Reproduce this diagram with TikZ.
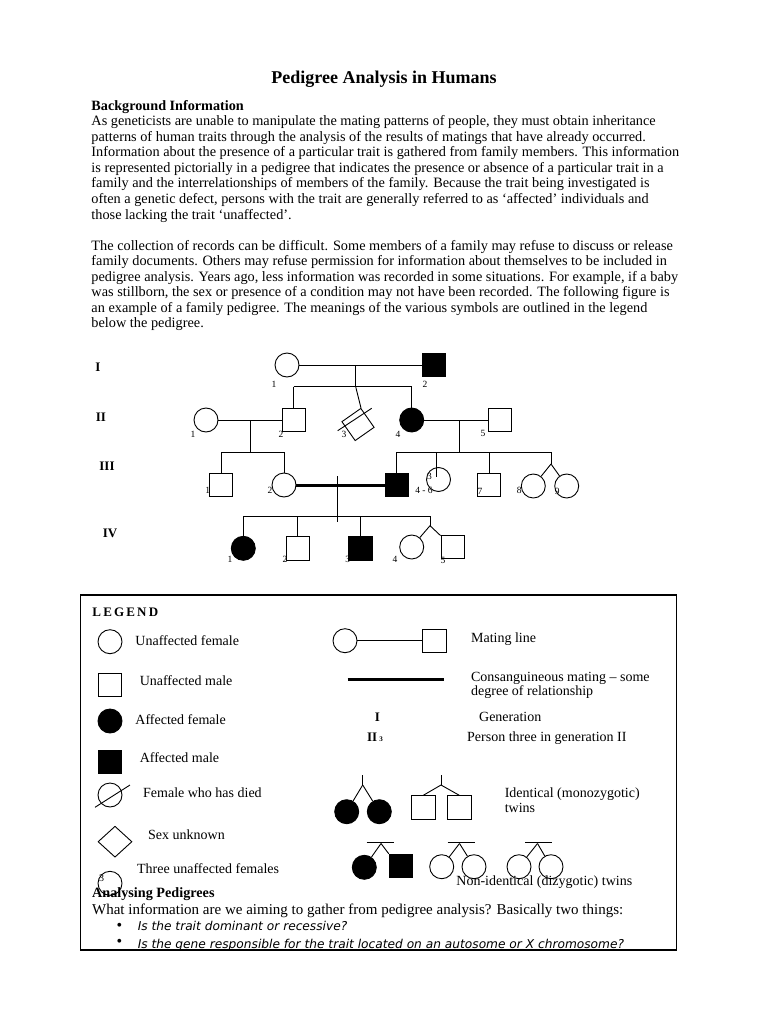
\documentclass[tikz,border=0pt]{standalone}
\usepackage{fontspec}
\setmainfont{Liberation Serif}
\newfontfamily\sansfont{DejaVu Sans}
\usetikzlibrary{shapes.geometric}
\begin{document}
\begin{tikzpicture}[x=1pt,y=-1pt,line width=0.9pt,
  fem/.style={circle,draw,minimum size=24pt,inner sep=0},
  mal/.style={rectangle,draw,minimum size=23.5pt,inner sep=0},
  aff/.style={fill=black},
  lbl/.style={inner sep=0,font=\fontsize{9.5}{9.5}\selectfont},
  gen/.style={inner sep=0,font=\fontsize{13}{13}\selectfont\bfseries},
  txt/.style={anchor=base west,inner sep=0,font=\fontsize{14.3}{15}\selectfont},
  ltxt/.style={anchor=base west,inner sep=0,font=\fontsize{14}{14}\selectfont},
  itx/.style={anchor=base west,inner sep=0,font=\fontsize{12.2}{14}\sansfont\itshape},
  thick line/.style={line width=3pt}]
\useasboundingbox (0,0) rectangle (768,1024);
% ---------- header text ----------
\node[inner sep=0,font=\fontsize{18}{18}\selectfont\bfseries] (title) at (384,79) {Pedigree Analysis in Humans};
\node[txt,font=\fontsize{14.2}{15}\selectfont\bfseries] (bg) at (91,111) {Background Information};
\node[txt] (p1) at (91,126) {As geneticists are unable to manipulate the mating patterns of people, they must obtain inheritance};
\node[txt] (p2) at (91,141.5) {patterns of human traits through the analysis of the results of matings that have already occurred.};
\node[txt] (p3) at (91,157) {Information about the presence of a particular trait is gathered from family members. This information};
\node[txt] (p4) at (91,172.5) {is represented pictorially in a pedigree that indicates the presence or absence of a particular trait in a};
\node[txt] (p5) at (91,188) {family and the interrelationships of members of the family. Because the trait being investigated is};
\node[txt] (p6) at (91,203.5) {often a genetic defect, persons with the trait are generally referred to as `affected' individuals and};
\node[txt] (p7) at (91,219) {those lacking the trait `unaffected'.};
\node[txt] (q1) at (91,250) {The collection of records can be difficult. Some members of a family may refuse to discuss or release};
\node[txt] (q2) at (91,265.5) {family documents. Others may refuse permission for information about themselves to be included in};
\node[txt] (q3) at (91,281) {pedigree analysis. Years ago, less information was recorded in some situations. For example, if a baby};
\node[txt] (q4) at (91,296.5) {was stillborn, the sex or presence of a condition may not have been recorded. The following figure is};
\node[txt] (q5) at (91,312) {an example of a family pedigree. The meanings of the various symbols are outlined in the legend};
\node[txt] (q6) at (91,327.5) {below the pedigree.};
% ---------- generation labels ----------
\node[gen] (gI) at (98,367) {I};
\node[gen] (gII) at (101,417) {II};
\node[gen] (gIII) at (107,466) {III};
\node[gen] (gIV) at (110,533) {IV};
% ---------- generation I ----------
\node[fem] (I1) at (287,365) {};
\node[mal,aff] (I2) at (434,365) {};
\draw (I1) -- (I2);
\coordinate (m1) at (355.7,365);
\coordinate (s1) at (355.7,386.7);
\coordinate (s1L) at (293.7,386.7);
\coordinate (s1R) at (411.7,386.7);
\draw (m1) -- (s1);
\draw (s1L) -- (s1R);
\node[lbl] (lI1) at (274,384) {1};
\node[lbl] (lI2) at (425,384) {2};
% ---------- generation II ----------
\node[fem] (II1) at (206,420) {};
\node[mal] (II2) at (293.7,420) {};
\node[diamond,draw,minimum width=33pt,minimum height=33pt,inner sep=0,rotate=-10] (II3) at (358,424.5) {};
\node[fem,aff] (II4) at (411.7,420) {};
\node[mal] (II5) at (500,420) {};
\draw (s1L) -- (II2);
\draw (s1) -- (II3.north);
\draw (s1R) -- (II4);
\coordinate (d1) at (337.7,430.7);
\coordinate (d2) at (371.7,408.3);
\draw (d1) -- (d2);
\draw (II1) -- (II2);
\draw (II4) -- (II5);
\coordinate (m2) at (250.3,420);
\coordinate (s2) at (250.3,452.7);
\draw (m2) -- (s2);
\coordinate (m3) at (459,420);
\coordinate (s3) at (459,452.7);
\draw (m3) -- (s3);
\node[lbl] (lII1) at (193,434) {1};
\node[lbl] (lII2) at (281,434) {2};
\node[lbl] (lII3) at (344,434) {3};
\node[lbl] (lII4) at (398,434) {4};
\node[lbl] (lII5) at (483,433) {5};
% ---------- generation III ----------
\node[mal] (III1) at (221,485) {};
\node[fem] (III2) at (284,485) {};
\node[mal,aff] (III3) at (396.7,485) {};
\node[fem] (III46) at (438.5,479.5) {};
\node[mal] (III7) at (489,485) {};
\node[fem] (III8) at (533.3,486) {};
\node[fem] (III9) at (566.7,486) {};
\draw (III1) |- (s2) -| (III2);
\draw[thick line] (III2) -- (III3);
\coordinate (t1) at (551,464);
\coordinate (s3R) at (551,452.7);
\draw (III3) |- (s3) -- (s3R) -- (t1);
\coordinate (v46a) at (436.7,452.7);
\coordinate (v46b) at (436.7,476.7);
\draw (v46a) -- (v46b);
\draw (III7) -- (III7 |- s3);
\draw (t1) -- (III8);
\draw (t1) -- (III9);
\coordinate (c1) at (337.7,476);
\coordinate (c2) at (337.7,521.7);
\draw (c1) -- (c2);
\node[lbl] (lIII1) at (207.7,490.7) {1};
\node[lbl] (lIII2) at (270,490.7) {2};
\node[lbl] (lIII3) at (429.5,476.7) {3};
\node[lbl] (lIII46) at (424,490.5) {4 - 6};
\node[lbl] (lIII7) at (480,491.7) {7};
\node[lbl] (lIII8) at (519.3,490.7) {8};
\node[lbl] (lIII9) at (557.3,491) {9};
% ---------- generation IV ----------
\node[fem,aff] (IV1) at (243.3,548.3) {};
\node[mal] (IV2) at (297.7,548.3) {};
\node[mal,aff] (IV3) at (360.5,548.3) {};
\node[fem] (IV4) at (411.7,547) {};
\node[mal] (IV5) at (452.7,547) {};
\coordinate (s4R) at (430,516);
\coordinate (t2) at (430,525.7);
\draw (IV1) |- (s4R) -- (t2);
\draw (IV2) -- (IV2 |- s4R);
\draw (IV3) -- (IV3 |- s4R);
\draw (t2) -- (IV4);
\draw (t2) -- (IV5);
\node[lbl] (lIV1) at (230,559) {1};
\node[lbl] (lIV2) at (285,559) {2};
\node[lbl] (lIV3) at (347.7,559) {3};
\node[lbl] (lIV4) at (395,559) {4};
\node[lbl] (lIV5) at (443,560) {5};
% ---------- legend ----------
\draw[line width=1.1pt] (80.7,595) rectangle (676.7,950);
\node[anchor=base west,inner sep=0,font=\fontsize{13}{13}\selectfont\bfseries] (leg) at (92,616) {L\,E\,G\,E\,N\,D};
\node[fem] (Lf) at (110,641.7) {};
\node[ltxt] (Lft) at (135,645) {Unaffected female};
\node[mal] (Lm) at (110,685) {};
\node[ltxt] (Lmt) at (139.3,685.5) {Unaffected male};
\node[fem,aff] (Laf) at (110,721) {};
\node[ltxt] (Laft) at (135,724.5) {Affected female};
\node[mal,aff] (Lam) at (110,761.7) {};
\node[ltxt] (Lamt) at (139.3,762.5) {Affected male};
\node[fem] (Ld) at (110,795) {};
\coordinate (Ld1) at (95,807.3);
\coordinate (Ld2) at (130,785);
\draw (Ld1) -- (Ld2);
\node[ltxt] (Ldt) at (142.7,797) {Female who has died};
\node[diamond,draw,minimum width=34pt,minimum height=31pt,inner sep=0] (Lu) at (115,841.7) {};
\node[ltxt] (Lut) at (147.7,839.5) {Sex unknown};
\node[fem] (L3) at (110,883.3) {};
\node[lbl,font=\fontsize{10}{10}\selectfont] (L3n) at (101.7,878) {3};
\node[ltxt] (L3t) at (136.7,873.5) {Three unaffected females};
% right column
\node[fem] (Mf) at (345,640.7) {};
\node[mal] (Mm) at (434.3,640.7) {};
\draw (Mf) -- (Mm);
\node[ltxt] (Mt) at (470.7,642.5) {Mating line};
\coordinate (K1) at (347.7,679.3);
\coordinate (K2) at (444,679.3);
\draw[line width=3.6pt] (K1) -- (K2);
\node[ltxt] (Kt1) at (470.7,681.5) {Consanguineous mating -- some};
\node[ltxt] (Kt2) at (470.7,695) {degree of relationship};
\node[gen] (GI) at (377.3,717.3) {I};
\node[ltxt] (GIt) at (478.7,721.5) {Generation};
\node[gen,anchor=base] (GII) at (375,741) {II\,{\fontsize{7}{7}\selectfont 3}};
\node[ltxt] (GIIt) at (466.7,741) {Person three in generation II};
% identical twins
\coordinate (ia) at (362.7,775);
\coordinate (ib) at (362.7,785);
\node[fem,aff] (if1) at (346.7,811.7) {};
\node[fem,aff] (if2) at (379.3,811.7) {};
\draw (ia) -- (ib);
\draw (ib) -- (if1);
\draw (ib) -- (if2);
\coordinate (ja) at (441,775);
\coordinate (jb) at (441,785);
\node[mal] (im1) at (423.3,807.5) {};
\node[mal] (im2) at (459.3,807.5) {};
\draw (ja) -- (jb);
\draw (jb) -- (im1.north);
\draw (jb) -- (im2.north);
\node[ltxt] (it1) at (504.3,797.5) {Identical (monozygotic)};
\node[ltxt] (it2) at (504.3,812) {twins};
% non-identical twins
\coordinate (n1a) at (366.7,842.7);
\coordinate (n1b) at (394,842.7);
\coordinate (n1c) at (381,843.5);
\node[fem,aff] (nf1) at (364.3,867.3) {};
\node[mal,aff] (nm1) at (401,866) {};
\draw (n1a) -- (n1b);
\draw (n1c) -- (nf1);
\draw (n1c) -- (nm1.north west);
\coordinate (n2a) at (447.7,842.7);
\coordinate (n2b) at (475,842.7);
\coordinate (n2c) at (459.5,843.5);
\node[fem] (nf2) at (441.7,866.7) {};
\node[fem] (nf3) at (474,866.7) {};
\draw (n2a) -- (n2b);
\draw (n2c) -- (nf2);
\draw (n2c) -- (nf3);
\coordinate (n3a) at (525,842.7);
\coordinate (n3b) at (551.7,842.7);
\coordinate (n3c) at (537.5,843.5);
\node[fem] (nf4) at (519,866.7) {};
\node[fem] (nf5) at (551,866.7) {};
\draw (n3a) -- (n3b);
\draw (n3c) -- (nf4);
\draw (n3c) -- (nf5);
\node[ltxt] (nt) at (456,885) {Non-identical (dizygotic) twins};
% analysing pedigrees
\node[txt,font=\fontsize{14.2}{15}\selectfont\bfseries] (ap) at (91.7,897.5) {Analysing Pedigrees};
\node[txt,font=\fontsize{15}{15}\selectfont] (w1) at (91.7,914) {What information are we aiming to gather from pedigree analysis? Basically two things:};
\node[inner sep=0,font=\fontsize{16}{16}\selectfont] (b1) at (119.3,926.7) {\textbullet};
\node[itx] (i1) at (137.3,930) {Is the trait dominant or recessive?};
\node[inner sep=0,font=\fontsize{16}{16}\selectfont] (b2) at (119.3,943.3) {\textbullet};
\node[itx] (i2) at (137.3,948) {Is the gene responsible for the trait located on an autosome or X chromosome?};
\end{tikzpicture}
\end{document}
